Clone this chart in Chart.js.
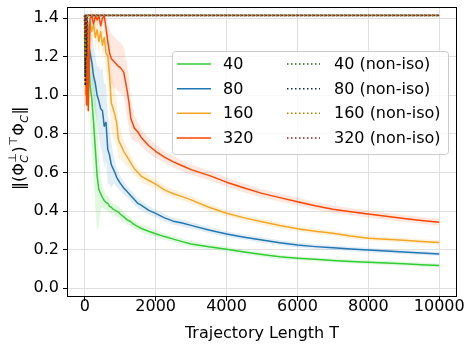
<!DOCTYPE html>
<html>
<head>
<meta charset="utf-8">
<script src="https://cdn.jsdelivr.net/npm/chart.js@4.4.0/dist/chart.umd.min.js"></script>
<style>
  html, body { margin: 0; padding: 0; background: #fff; }
</style>
</head>
<body>
<canvas id="chart" width="474" height="351"></canvas>
<script>
const steps = [0,25,50,75,100,150,200,250,300,350,400,450,500,550,600,650,700,750,800,850,900,950,1000,1100,1200,1250,1300,1400,1500,1600,1800,2000,2250,2500,2750,3000,3500,4000,4500,5000,5500,6000,6500,7000,7500,8000,8500,9000,9500,10000];

const len40  = [1.41,1.30,1.12,1.36,1.22,1.05,0.98,0.86,0.72,0.58,0.51,0.49,0.47,0.455,0.445,0.44,0.425,0.42,0.41,0.405,0.40,0.395,0.385,0.37,0.355,0.35,0.345,0.33,0.32,0.31,0.296,0.283,0.268,0.255,0.242,0.230,0.215,0.203,0.188,0.175,0.163,0.156,0.150,0.144,0.139,0.135,0.131,0.127,0.122,0.118];
const len80  = [1.41,1.38,1.05,1.40,1.28,1.22,1.17,1.10,1.06,1.00,0.97,0.93,0.92,0.84,0.86,0.72,0.69,0.64,0.62,0.60,0.575,0.56,0.545,0.52,0.50,0.49,0.48,0.46,0.44,0.43,0.405,0.388,0.365,0.348,0.338,0.326,0.302,0.281,0.265,0.250,0.236,0.224,0.216,0.210,0.204,0.198,0.193,0.188,0.183,0.178];
const len160 = [1.41,1.00,1.40,0.95,1.25,1.38,1.33,1.37,1.30,1.34,1.28,1.33,1.26,1.30,1.22,1.20,1.10,0.96,0.93,0.90,0.86,0.77,0.75,0.71,0.68,0.665,0.65,0.62,0.60,0.58,0.56,0.54,0.51,0.49,0.475,0.458,0.42,0.389,0.365,0.345,0.325,0.309,0.296,0.285,0.271,0.260,0.254,0.249,0.243,0.237];
const len320 = [1.41,1.30,0.95,1.38,0.92,1.40,1.41,1.37,1.41,1.39,1.41,1.36,1.40,1.41,1.35,1.28,1.22,1.19,1.18,1.17,1.16,1.15,1.145,1.12,1.02,0.96,0.88,0.83,0.81,0.78,0.74,0.71,0.68,0.655,0.635,0.615,0.585,0.550,0.520,0.492,0.470,0.449,0.428,0.410,0.397,0.385,0.373,0.362,0.352,0.342];

// half width of the shaded bands
const sd40  = [0.02,0.08,0.15,0.08,0.15,0.2,0.25,0.28,0.30,0.28,0.18,0.08,0.05,0.045,0.04,0.04,0.035,0.035,0.03,0.03,0.03,0.03,0.03,0.028,0.025,0.025,0.025,0.022,0.02,0.02,0.02,0.018,0.016,0.015,0.015,0.014,0.013,0.012,0.012,0.011,0.011,0.01,0.01,0.01,0.01,0.01,0.01,0.01,0.01,0.01];
const sd80  = [0.02,0.06,0.15,0.06,0.1,0.15,0.15,0.15,0.15,0.15,0.18,0.2,0.22,0.22,0.2,0.18,0.15,0.12,0.08,0.06,0.05,0.045,0.04,0.035,0.03,0.03,0.03,0.028,0.026,0.025,0.022,0.02,0.02,0.018,0.018,0.017,0.016,0.015,0.014,0.014,0.013,0.013,0.012,0.012,0.012,0.012,0.011,0.011,0.011,0.011];
const sd160 = [0.02,0.1,0.05,0.1,0.08,0.06,0.07,0.06,0.07,0.06,0.07,0.06,0.07,0.07,0.1,0.13,0.15,0.15,0.15,0.14,0.12,0.1,0.08,0.06,0.05,0.045,0.04,0.035,0.03,0.03,0.028,0.025,0.024,0.022,0.02,0.02,0.018,0.017,0.016,0.015,0.015,0.014,0.014,0.013,0.013,0.012,0.012,0.012,0.012,0.012];
const sd320 = [0.02,0.08,0.12,0.05,0.1,0.04,0.03,0.04,0.03,0.03,0.03,0.04,0.03,0.03,0.06,0.1,0.12,0.13,0.13,0.13,0.13,0.13,0.13,0.13,0.14,0.13,0.1,0.07,0.05,0.045,0.04,0.035,0.03,0.03,0.028,0.026,0.025,0.024,0.023,0.022,0.021,0.02,0.02,0.02,0.019,0.019,0.018,0.018,0.018,0.018];

// non-isotropic runs stay at sqrt(2)
const nonIsoT   = [0, 15, 30, 45, 60, 100, 10000];
const nonIso40  = [1.30, 1.10, 1.414, 1.25, 1.414, 1.414, 1.414];
const nonIso80  = [1.414, 1.05, 1.414, 1.20, 1.414, 1.414, 1.414];
const nonIso160 = [1.414, 1.20, 1.35, 1.414, 1.414, 1.414, 1.414];
const nonIso320 = [1.414, 1.30, 1.414, 1.414, 1.414, 1.414, 1.414];

const xTicks = [0, 2000, 4000, 6000, 8000, 10000];
const yTicks = [0, 0.2, 0.4, 0.6, 0.8, 1.0, 1.2, 1.4];

const series = [
  { label: '40',  vals: len40,  sd: sd40,  color: '#32cd32', band: 'rgba(50,205,50,0.15)' },
  { label: '80',  vals: len80,  sd: sd80,  color: '#1f77b4', band: 'rgba(31,119,180,0.13)' },
  { label: '160', vals: len160, sd: sd160, color: '#f5a623', band: 'rgba(245,166,35,0.15)' },
  { label: '320', vals: len320, sd: sd320, color: '#ff4500', band: 'rgba(255,69,0,0.12)' }
];
const nonIso = [
  { label: '40 (non-iso)',  vals: nonIso40,  color: '#0f6b0f' },
  { label: '80 (non-iso)',  vals: nonIso80,  color: '#102a55' },
  { label: '160 (non-iso)', vals: nonIso160, color: '#b07d0a' },
  { label: '320 (non-iso)', vals: nonIso320, color: '#8e1f1f' }
];

const FONT = "'DejaVu Sans', sans-serif";
const datasets = [];
series.forEach((s, k) => {
  datasets.push({
    data: steps.map((t, i) => ({ x: t, y: s.vals[i] - s.sd[i] })),
    borderWidth: 0, pointRadius: 0, fill: false, order: 20
  });
  datasets.push({
    data: steps.map((t, i) => ({ x: t, y: s.vals[i] + s.sd[i] })),
    borderWidth: 0, pointRadius: 0, fill: '-1', backgroundColor: s.band, order: 20
  });
});
series.forEach((s, k) => {
  datasets.push({
    label: s.label, legendCol: 0,
    data: steps.map((t, i) => ({ x: t, y: s.vals[i] })),
    borderColor: s.color, borderWidth: 1.5, pointRadius: 0, fill: false,
    borderJoinStyle: 'round', order: 10 - k
  });
});
nonIso.forEach((s, k) => {
  datasets.push({
    label: s.label, legendCol: 1,
    data: nonIsoT.map((t, i) => ({ x: t, y: s.vals[i] })),
    borderColor: s.color, borderWidth: 1.8, borderDash: [1.5, 2.5], pointRadius: 0, fill: false,
    order: 4 - k
  });
});

const decor = {
  id: 'decor',
  afterDraw(chart) {
    const { ctx, chartArea: a } = chart;
    ctx.save();
    // frame
    ctx.strokeStyle = '#000';
    ctx.lineWidth = 1;
    ctx.strokeRect(a.left + 0.5, a.top + 0.5, a.right - a.left - 1, a.bottom - a.top - 1);

    // legend
    const bx = 172, by = 51, bw = 276, bh = 103;
    ctx.beginPath();
    ctx.roundRect(bx + 0.5, by + 0.5, bw, bh, 3);
    ctx.fillStyle = 'rgba(255,255,255,0.8)';
    ctx.fill();
    ctx.strokeStyle = '#cccccc';
    ctx.stroke();
    const rows = [64, 88.7, 113.3, 138];
    const cols = [{ h0: 177, h1: 211, tx: 223 }, { h0: 287, h1: 320, tx: 334 }];
    const counts = [0, 0];
    ctx.font = '16px ' + FONT;
    ctx.textBaseline = 'middle';
    chart.data.datasets.forEach(d => {
      if (d.legendCol === undefined) return;
      const c = cols[d.legendCol];
      const y = rows[counts[d.legendCol]++];
      ctx.beginPath();
      ctx.setLineDash(d.borderDash || []);
      ctx.strokeStyle = d.borderColor;
      ctx.lineWidth = 1.5;
      ctx.moveTo(c.h0, y);
      ctx.lineTo(c.h1, y);
      ctx.stroke();
      ctx.setLineDash([]);
      ctx.fillStyle = '#000';
      ctx.textAlign = 'left';
      ctx.fillText(d.label, c.tx, y + 1);
    });

    // x title
    ctx.fillStyle = '#000';
    ctx.textAlign = 'center';
    ctx.textBaseline = 'middle';
    ctx.font = '16px ' + FONT;
    ctx.fillText('Trajectory Length T', (a.left + a.right) / 2, 334);

    // y title: ||(Phi_C^perp)^T Phi_C||
    const big = '16px ' + FONT, small = '11px ' + FONT, smallIt = 'italic 11px ' + FONT;
    const parts = [
      { t: '\u2016(\u03A6', f: big, dy: 0 },
      { t: 'C', f: smallIt, dy: 4, over: '\u22A5' },
      { t: ')', f: big, dy: 0 },
      { t: '\u22A4', f: small, dy: -7 },
      { t: '\u03A6', f: big, dy: 0 },
      { t: 'C', f: smallIt, dy: 4 },
      { t: '\u2016', f: big, dy: 0 }
    ];
    let total = 0;
    parts.forEach(p => {
      ctx.font = p.f;
      p.w = ctx.measureText(p.t).width;
      if (p.over) { ctx.font = small; p.w = Math.max(p.w, ctx.measureText(p.over).width); }
      p.w += 0.5;
      total += p.w;
    });
    ctx.translate(18, (a.top + a.bottom) / 2 - 4);
    ctx.rotate(-Math.PI / 2);
    ctx.textAlign = 'left';
    ctx.textBaseline = 'alphabetic';
    let x = -total / 2;
    parts.forEach(p => {
      ctx.font = p.f;
      ctx.fillText(p.t, x, 6 + p.dy);
      if (p.over) { ctx.font = small; ctx.fillText(p.over, x, 6 - 8); }
      x += p.w;
    });
    ctx.restore();
  }
};

new Chart(document.getElementById('chart'), {
  type: 'line',
  data: { datasets },
  plugins: [decor],
  options: {
    responsive: false,
    animation: false,
    devicePixelRatio: 1,
    layout: { padding: { top: 7, right: 17, left: 0, bottom: 0 } },
    plugins: { legend: { display: false }, tooltip: { enabled: false } },
    scales: {
      x: {
        type: 'linear', min: -500, max: 10500,
        afterBuildTicks: s => { s.ticks = xTicks.map(v => ({ value: v })); },
        afterFit: s => { s.height = 54; s.paddingLeft = 0; s.paddingRight = 0; },
        grid: { color: '#e0e0e0', lineWidth: 1, tickColor: '#000', tickLength: 4 },
        border: { display: false },
        ticks: { color: '#000', font: { family: FONT, size: 16 }, padding: -4, maxRotation: 0,
                 callback: v => String(v) }
      },
      y: {
        type: 'linear', min: -0.045, max: 1.4576,
        afterBuildTicks: s => { s.ticks = yTicks.map(v => ({ value: v })); },
        afterFit: s => { s.width = 67; s.paddingTop = 0; s.paddingBottom = 0; },
        grid: { color: '#e0e0e0', lineWidth: 1, tickColor: '#000', tickLength: 4 },
        border: { display: false },
        ticks: { color: '#000', font: { family: FONT, size: 16 }, padding: 4,
                 callback: v => v.toFixed(1) }
      }
    }
  }
});
</script>
</body>
</html>
